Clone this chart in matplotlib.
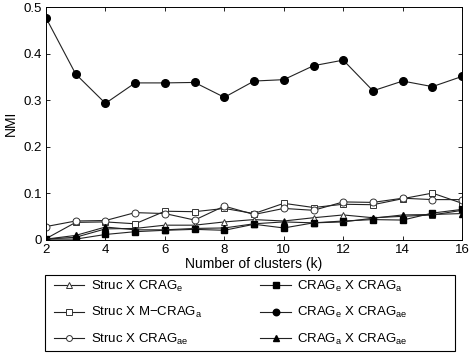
import numpy as np
import matplotlib
matplotlib.use('Agg')
import matplotlib.pyplot as plt
from matplotlib.patches import Rectangle

plt.rcParams['font.family'] = ['Liberation Sans', 'DejaVu Sans']
plt.rcParams['mathtext.fontset'] = 'custom'
plt.rcParams['mathtext.rm'] = 'Liberation Sans'
plt.rcParams['mathtext.it'] = 'Liberation Sans'

# Number of clusters
k = [2, 3, 4, 5, 6, 7, 8, 9, 10, 11, 12, 13, 14, 15, 16]

# NMI values
struc_crag_e = [0.001, 0.005, 0.023, 0.024, 0.031, 0.031, 0.038, 0.043, 0.040, 0.047, 0.053, 0.047, 0.050, 0.053, 0.063]
struc_mcrag_a = [0.002, 0.037, 0.038, 0.034, 0.061, 0.060, 0.067, 0.056, 0.078, 0.069, 0.076, 0.075, 0.088, 0.100, 0.078]
struc_crag_ae = [0.028, 0.040, 0.041, 0.058, 0.056, 0.042, 0.072, 0.054, 0.067, 0.063, 0.081, 0.080, 0.089, 0.086, 0.086]
crag_e_crag_a = [0.001, 0.001, 0.011, 0.017, 0.020, 0.022, 0.020, 0.033, 0.025, 0.036, 0.040, 0.043, 0.042, 0.057, 0.065]
crag_e_crag_ae = [0.477, 0.356, 0.293, 0.337, 0.337, 0.338, 0.306, 0.341, 0.344, 0.374, 0.386, 0.320, 0.341, 0.329, 0.351]
crag_a_crag_ae = [0.001, 0.009, 0.027, 0.021, 0.021, 0.024, 0.025, 0.034, 0.038, 0.036, 0.038, 0.046, 0.053, 0.054, 0.056]

labels = [r'Struc X CRAG$_{\mathrm{e}}$',
          r'Struc X M$-$CRAG$_{\mathrm{a}}$',
          r'Struc X CRAG$_{\mathrm{ae}}$',
          r'CRAG$_{\mathrm{e}}$ X CRAG$_{\mathrm{a}}$',
          r'CRAG$_{\mathrm{e}}$ X CRAG$_{\mathrm{ae}}$',
          r'CRAG$_{\mathrm{a}}$ X CRAG$_{\mathrm{ae}}$']

fig = plt.figure(figsize=(4.74, 3.56), dpi=100)
ax = fig.add_axes([0.097, 0.327, 0.878, 0.653])

lc = '#222222'
ax.plot(k, struc_crag_e, '-^', color=lc, lw=0.8, mfc='white', mec='#333333', ms=5, mew=0.7, label=labels[0])
ax.plot(k, struc_mcrag_a, '-s', color=lc, lw=0.8, mfc='white', mec='#333333', ms=4.5, mew=0.7, label=labels[1])
ax.plot(k, struc_crag_ae, '-o', color=lc, lw=0.8, mfc='white', mec='#333333', ms=5, mew=0.7, label=labels[2])
ax.plot(k, crag_e_crag_a, '-s', color=lc, lw=0.8, mfc='black', mec='black', ms=4.5, label=labels[3])
ax.plot(k, crag_e_crag_ae, '-o', color=lc, lw=0.8, mfc='black', mec='black', ms=5.5, label=labels[4])
ax.plot(k, crag_a_crag_ae, '-^', color=lc, lw=0.8, mfc='black', mec='black', ms=5, label=labels[5])

ax.set_xlim(2, 16)
ax.set_ylim(0, 0.5)
ax.set_xticks(range(2, 17, 2))
ax.set_yticks([0, 0.1, 0.2, 0.3, 0.4, 0.5])
ax.set_yticklabels(['0', '0.1', '0.2', '0.3', '0.4', '0.5'])
ax.tick_params(direction='in', top=True, right=True, labelsize=9.5, length=3, width=0.6, pad=3)
for s in ax.spines.values():
    s.set_linewidth(0.7)
ax.set_xlabel('Number of clusters (k)', fontsize=10, labelpad=1)
ax.set_ylabel('NMI', fontsize=10, labelpad=4)

# legend box (drawn separately so it can be wider than its entries)
fig.patches.append(Rectangle((45 / 474, 1 - 351 / 356), 410 / 474, 76 / 356,
                             transform=fig.transFigure, fill=False,
                             edgecolor='black', linewidth=0.8))

handles, labs = ax.get_legend_handles_labels()
leg = fig.legend(handles, labs, ncol=2, loc='upper left',
                 bbox_to_anchor=(54 / 474, 1 - 279 / 356),
                 fontsize=9.5, frameon=False,
                 handlelength=2.3, handletextpad=0.5, markerscale=0.85,
                 borderpad=0, labelspacing=0.85, columnspacing=4.4,
                 borderaxespad=0)

fig.savefig('out.png', dpi=100)
